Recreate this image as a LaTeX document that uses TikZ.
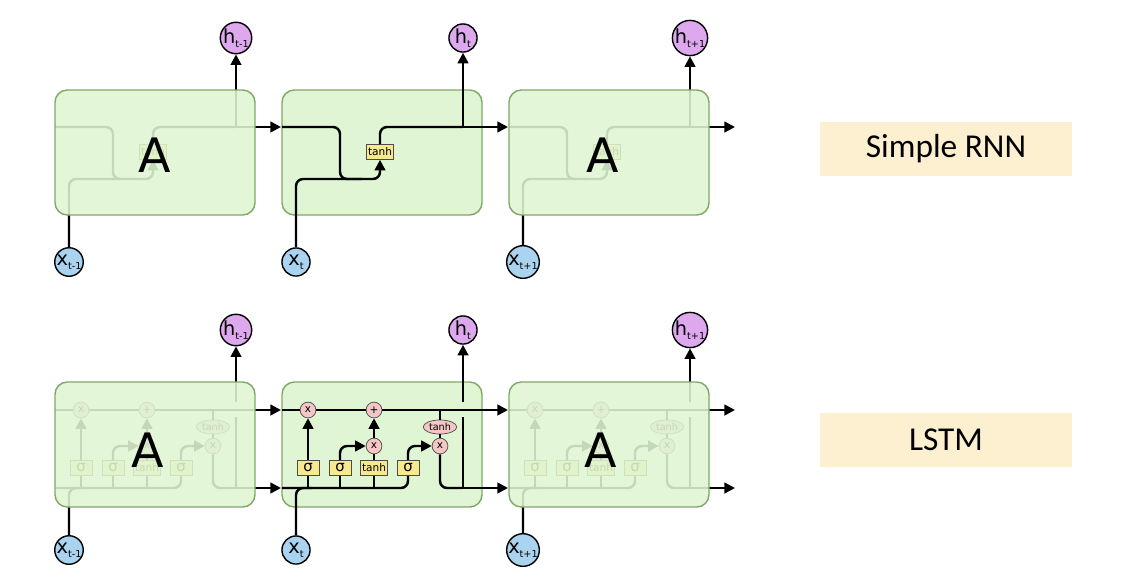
\documentclass[tikz,border=0pt]{standalone}
\usepackage{fontspec}
\setmainfont{Carlito}
\newfontfamily\circfont{DejaVu Sans}
\usetikzlibrary{arrows.meta,shapes.geometric}

\definecolor{cellgreen}{HTML}{DFF5D3}
\definecolor{cellline}{HTML}{7FA868}
\definecolor{hpurple}{HTML}{DDA8EE}
\definecolor{xblue}{HTML}{A9D3EE}
\definecolor{oppink}{HTML}{F4C6C6}
\definecolor{gateyel}{HTML}{F8E98F}
\definecolor{tagbg}{HTML}{FDF0D0}

\newcommand{\sbs}[1]{\raisebox{-2pt}{\fontsize{5.5}{6}\selectfont #1}}

\tikzset{
  wire/.style={line width=1.4pt, rounded corners=4pt},
  arr/.style={wire, -{Triangle[length=6pt,width=6pt]}},
  hnode/.style={circle, draw, thick, fill=hpurple, minimum size=16pt, inner sep=0pt, font=\circfont\fontsize{11}{11}\selectfont},
  xnode/.style={circle, draw, thick, fill=xblue, minimum size=16pt, inner sep=0pt, font=\circfont\fontsize{11}{11}\selectfont},
  op/.style={circle, draw=black!70, fill=oppink, minimum size=9pt, inner sep=0pt, font=\circfont\fontsize{6}{6}\selectfont},
  gate/.style={rectangle, draw=black!70, fill=gateyel, minimum width=12.5pt, minimum height=8.5pt, inner sep=1pt, font=\circfont\fontsize{6}{6}\selectfont},
  sgate/.style={gate, font=\circfont\fontsize{8.5}{8}\selectfont},
  tanhop/.style={ellipse, draw=black!70, fill=oppink, minimum width=17pt, minimum height=8pt, inner sep=0.5pt, font=\circfont\fontsize{5.5}{6}\selectfont},
  cellbox/.style={draw=cellline, thick, fill=cellgreen, rounded corners=7pt},
  fadebox/.style={cellbox, fill opacity=0.88},
  bigA/.style={font=\circfont\fontsize{27}{28}\selectfont},
  tag/.style={rectangle, fill=tagbg, minimum width=143pt, minimum height=30.6pt, font=\fontsize{19}{22}\selectfont}
}

% simple rnn cell: x0, prefix, time
\newcommand{\rnncell}[3]{%
\begin{scope}[shift={(#1,0)}]
  \node[hnode] (#2h) at (181,38) {h\sbs{#3}};
  \node[xnode] (#2x) at (14,262) {x\sbs{#3}};
  \node[gate] (#2tanh) at (98,152) {tanh};
  \coordinate (#2in) at (0,127);
  \coordinate (#2out) at (226,127);
  \draw[wire] (#2in) -- (58,127) -- (58,179) -- (80,179);
  \draw[arr] (#2x) -- (14,179) -- (98,179) -- (#2tanh);
  \draw[wire] (#2tanh) -- (98,127) -- (181,127);
  \draw[arr] (181,127) -- (#2out);
  \draw[arr] (181,127) -- (#2h);
\end{scope}}

% lstm cell: x0, prefix, time
\newcommand{\lstmcell}[3]{%
\begin{scope}[shift={(#1,0)}]
  \node[hnode] (#2h) at (181,330) {h\sbs{#3}};
  \node[xnode] (#2x) at (14,550) {x\sbs{#3}};
  \node[op] (#2mf) at (26,410) {x};
  \node[op] (#2add) at (92,410) {+};
  \node[op] (#2mi) at (92,446) {x};
  \node[op] (#2mo) at (158,446) {x};
  \node[tanhop] (#2tc) at (158,427) {tanh};
  \node[sgate] (#2sf) at (26,468) {σ};
  \node[sgate] (#2si) at (58,468) {σ};
  \node[gate] (#2tg) at (92,468) {tanh};
  \node[sgate] (#2so) at (126,468) {σ};
  \coordinate (#2inc) at (0,410);
  \coordinate (#2inh) at (0,488);
  \coordinate (#2outc) at (226,410);
  \coordinate (#2outh) at (226,488);
  % cell state
  \draw[wire] (#2inc) -- (#2mf) -- (#2add);
  \draw[arr] (#2add) -- (#2outc);
  \draw[wire] (158,410) -- (#2tc) -- (#2mo);
  % hidden state and input
  \draw[wire] (#2inh) -- (126,488) -- (#2so);
  \draw[wire] (#2x) -- (14,488) -- (30,488);
  \foreach \g in {sf,si,tg} \draw[wire] (#2\g) -- (#2\g |- #2inh);
  % gates
  \draw[arr] (#2sf) -- (#2mf);
  \draw[arr] (#2si) |- (#2mi);
  \draw[wire] (#2tg) -- (#2mi);
  \draw[arr] (#2mi) -- (#2add);
  \draw[arr] (#2so) |- (#2mo);
  % output
  \draw[wire] (#2mo) -- (158,488) -- (180,488);
  \draw[arr] (180,488) -- (#2outh);
  \draw[wire] (181,488) -- (181,417);
  \draw[arr] (181,402) -- (#2h);
\end{scope}}

\begin{document}
\begin{tikzpicture}[x=0.02cm, y=-0.02cm]
  \useasboundingbox (0,0) rectangle (1128,585);

  % simple rnn
  \rnncell{55}{ra}{t-1}
  \draw[fadebox] (55,90) rectangle (255,215);
  \node[bigA] (ra-A) at (155,155) {A};
  \draw[cellbox] (282,90) rectangle (482,215);
  \rnncell{282}{rb}{t}
  \rnncell{509}{rc}{t+1}
  \draw[fadebox] (509,90) rectangle (709,215);
  \node[bigA] (rc-A) at (603,155) {A};

  % lstm
  \lstmcell{55}{la}{t-1}
  \draw[fadebox] (55,382) rectangle (255,507);
  \node[bigA] (la-A) at (148,450) {A};
  \draw[cellbox] (282,382) rectangle (482,507);
  \lstmcell{282}{lb}{t}
  \lstmcell{509}{lc}{t+1}
  \draw[fadebox] (509,382) rectangle (709,507);
  \node[bigA] (lc-A) at (601,450) {A};

  % labels
  \node[tag] (rnn-tag) at (946,149) {Simple RNN};
  \node[tag] (lstm-tag) at (946,440) {LSTM};
\end{tikzpicture}
\end{document}
